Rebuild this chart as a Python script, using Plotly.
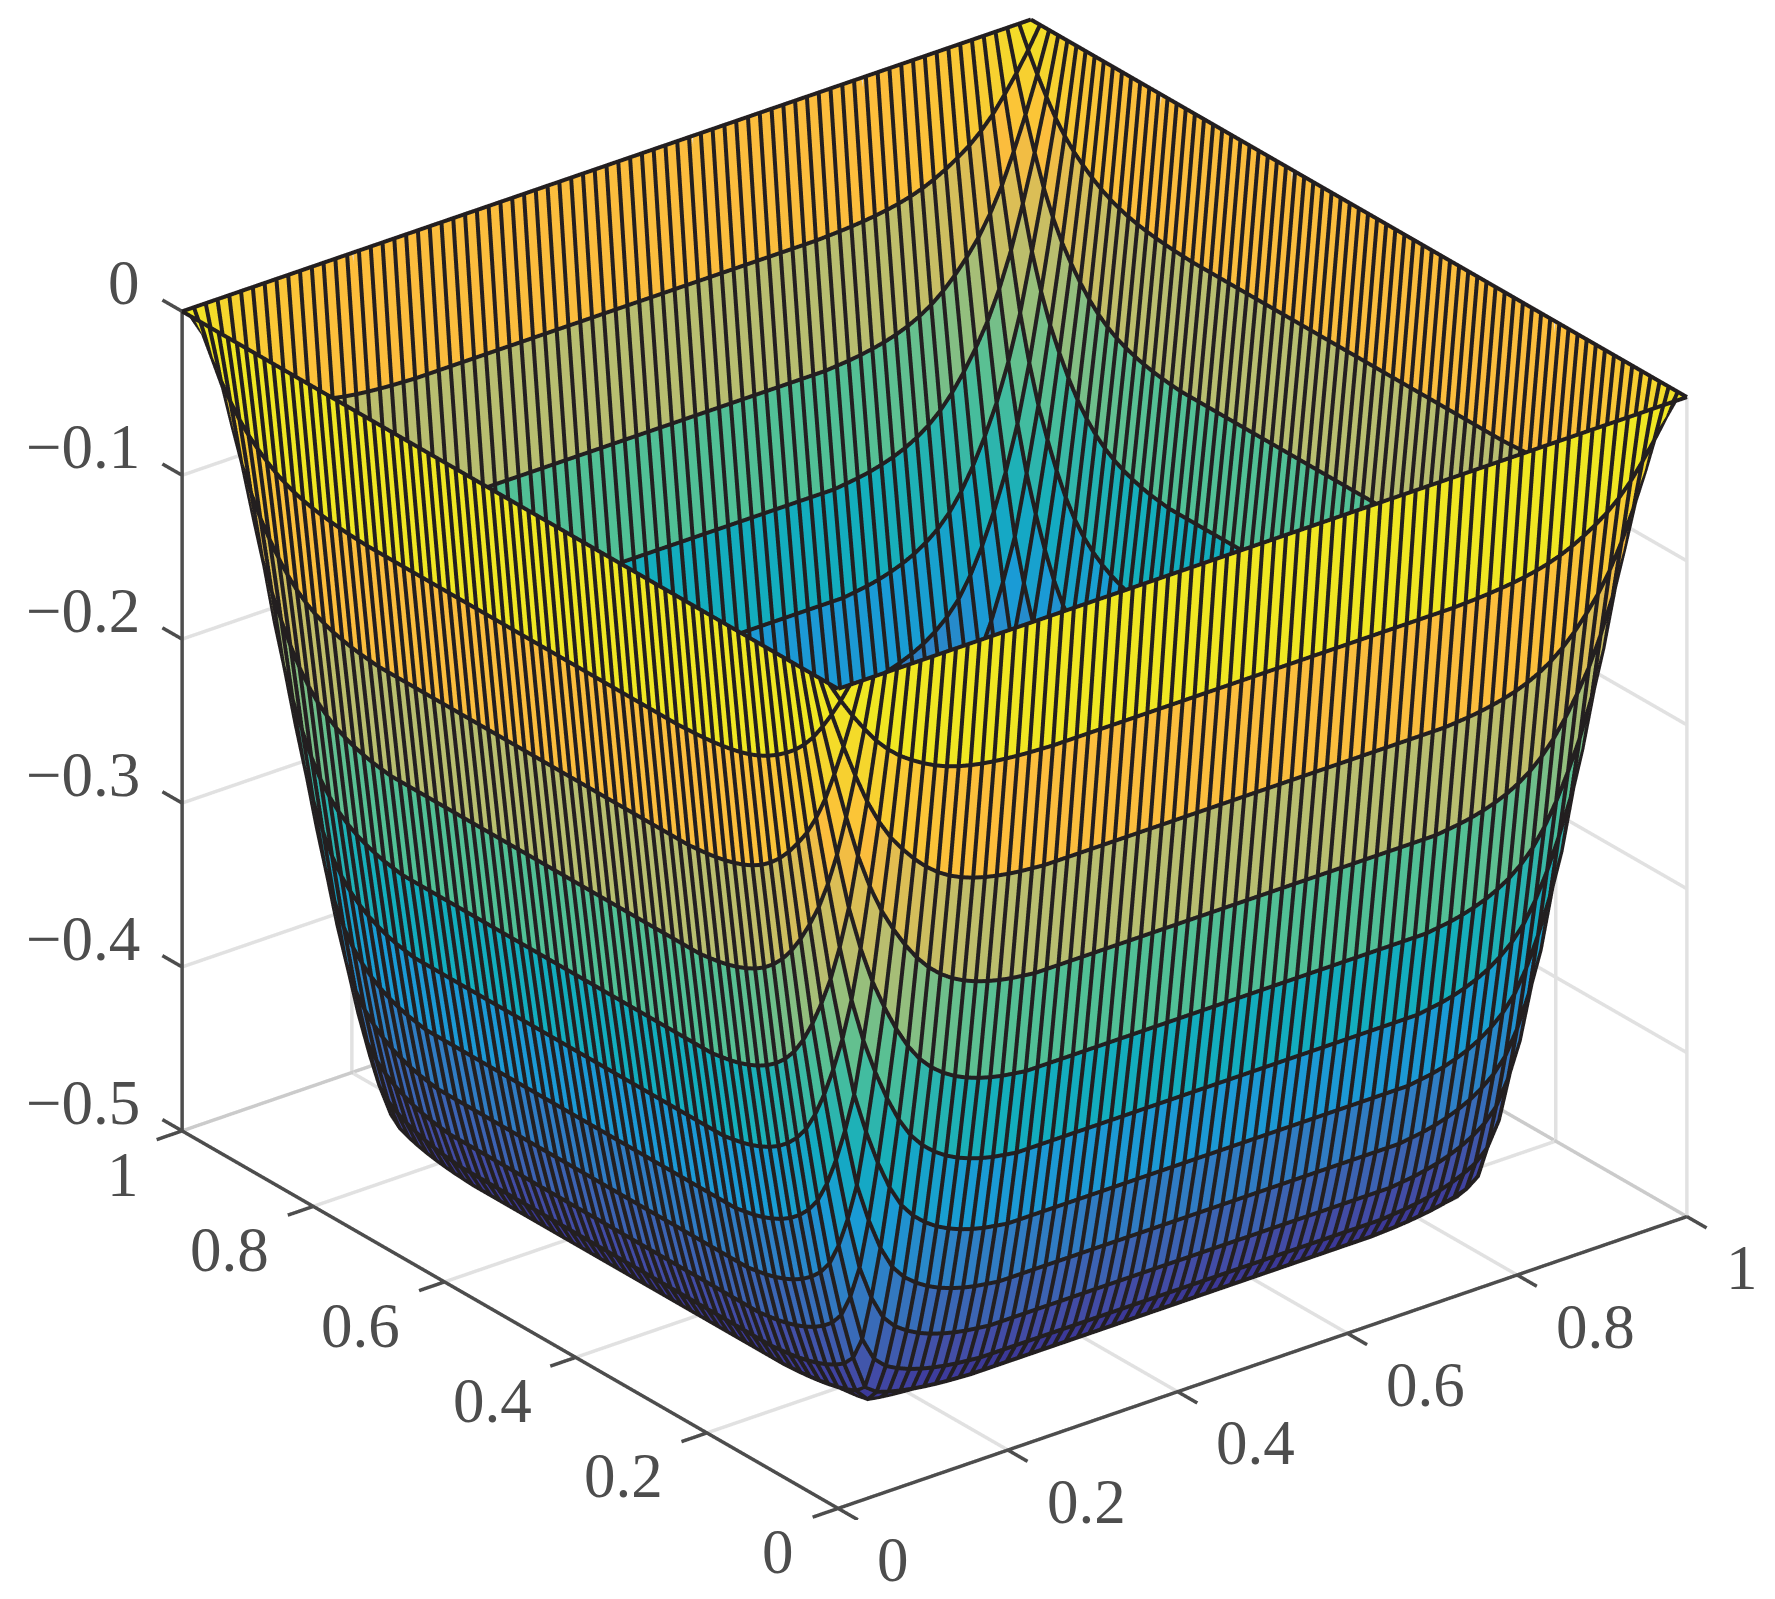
#!/usr/bin/env python3
"""Surface with steep boundary walls, drawn the way a faceted surf looks."""
import numpy as np
import plotly.graph_objects as go

# depth of the wall along one edge, read line by line off the front and back walls
wall_depth = [0.0, -0.0847, -0.161, -0.230, -0.293, -0.3459, -0.3924, -0.431,
              -0.461, -0.4837, -0.497, -0.5]
# how far a mesh line stays above that depth near a corner, by cell from the edge
corner_gap = [0.10, 0.10, 0.10, 0.10, 0.10, 0.105, 0.115, 0.125, 0.125, 0.12, 0.107,
              0.084, 0.062, 0.045, 0.032, 0.022, 0.014, 0.008, 0.004, 0.0]
# that gap fades out for the lines deeper down the wall
corner_fade = [1.0, 1.0, 1.0, 1.0, 0.9, 0.8, 0.65, 0.5, 0.4, 0.3, 0.2, 0.12, 0.06, 0.02, 0.0]
n_cells = 72
plateau = -0.5

x_ticks = [0, 0.2, 0.4, 0.6, 0.8, 1]
y_ticks = [0, 0.2, 0.4, 0.6, 0.8, 1]
z_ticks = [-0.5, -0.4, -0.3, -0.2, -0.1, 0]
x_labels = ['0', '0.2', '0.4', '0.6', '0.8', '1']
y_labels = ['0', '0.2', '0.4', '0.6', '0.8', '1']
z_labels = ['\u22120.5', '\u22120.4', '\u22120.3', '\u22120.2', '\u22120.1', '0']

band_colors = [
    [0.0, '#352A87'], [0.042, '#3F3FA0'], [0.086, '#4350A8'], [0.146, '#3B66B5'],
    [0.222, '#2F7FC5'], [0.314, '#1A9BD6'], [0.416, '#13AEBD'], [0.542, '#52C096'],
    [0.68, '#B8BE70'], [0.834, '#FDBD3C'], [1.0, '#F0E722'],
]

LINE_DARK = '#231F20'
AXIS_GREY = '#4D4D4D'
GRID_GREY = '#E1E1E1'
GRID_EDGE = '#CBCBCB'
TICK_LEN = 0.03
Z_ASPECT = 0.853   # scene length of the z range compared with x and y
PX = 1 / 1073      # one screen pixel in scene units
MARGIN = 0.04
ZOOM = 1.419       # plotly sizes an orthographic scene from the aspect ratio
EYE = np.array([-0.548, -0.709, 0.445])
EYE = EYE / np.linalg.norm(EYE)
E = 2.0

# screen directions, in scene units
right = np.cross([0, 0, 1], EYE)
right = right / np.linalg.norm(right)
up = np.cross(EYE, right)
z_unit = Z_ASPECT / 0.5


def ribbons(lines, width_px, lift=0.006, **style):
    """Turn polylines into flat strips, since gl lines stay 1px wide here."""
    vx, vy, vz, ti, tj, tk = [], [], [], [], [], []
    base = 0
    for px, py, pz in lines:
        w = np.column_stack([px, py, np.asarray(pz, dtype=float) * z_unit])
        t = np.gradient(w, axis=0)
        sx, sy = t @ right, t @ up
        norm = np.hypot(sx, sy)
        norm[norm == 0] = 1
        side = np.outer(-sy / norm, right) + np.outer(sx / norm, up)
        half = 0.5 * width_px * PX
        pts = np.concatenate([w + half * side, w - half * side]) + lift * EYE
        n = len(w)
        vx.append(pts[:, 0])
        vy.append(pts[:, 1])
        vz.append(pts[:, 2] / z_unit)
        a = base + np.arange(n - 1)
        b = a + n
        ti += [a, a + 1]
        tj += [b, b]
        tk += [a + 1, b + 1]
        base += 2 * n
    return go.Mesh3d(
        x=np.concatenate(vx), y=np.concatenate(vy), z=np.concatenate(vz),
        i=np.concatenate(ti), j=np.concatenate(tj), k=np.concatenate(tk),
        lighting=dict(ambient=1, diffuse=0, specular=0, fresnel=0, roughness=1),
        hoverinfo='skip', showscale=False, **style,
    )


grid = np.linspace(0, 1, n_cells + 1)
profile = np.full(n_cells + 1, plateau)
profile[:len(wall_depth)] = wall_depth
profile[-len(wall_depth):] = wall_depth[::-1]

# corners are shallower than the two walls alone would make them
from_edge = np.minimum(np.arange(n_cells + 1), n_cells - np.arange(n_cells + 1))
gap = np.zeros(n_cells + 1)
gap[:len(corner_gap)] = corner_gap
fade = np.zeros(n_cells + 1)
fade[:len(corner_fade)] = corner_fade
shallow = np.outer(gap[from_edge], gap[from_edge]) / 0.10
shallow = shallow * fade[np.minimum.outer(from_edge, from_edge)]
z = -np.outer(profile, profile) / 0.5 * (1 - shallow)

# every cell keeps the colour of its low corner, so the grid is doubled
eps = 1e-4
idx = np.repeat(np.arange(n_cells + 1), 2)[1:-1]
pos = grid[idx].copy()
pos[1::2] -= eps
low = np.repeat(np.arange(n_cells), 2)
z_fine = z[np.ix_(idx, idx)]
c_fine = z[np.ix_(low, low)]

fig = go.Figure()
fig.add_trace(go.Surface(
    x=pos, y=pos, z=z_fine, surfacecolor=c_fine,
    colorscale=band_colors, cmin=-0.5, cmax=0, showscale=False,
    lighting=dict(ambient=1, diffuse=0, specular=0, fresnel=0, roughness=1),
    hoverinfo='skip',
))

# mesh lines
mesh_lines = []
for i in range(n_cells + 1):
    mesh_lines.append((np.full(n_cells + 1, grid[i]), grid, z[:, i]))
    mesh_lines.append((grid, np.full(n_cells + 1, grid[i]), z[i, :]))
fig.add_trace(ribbons(mesh_lines, 4.0, color=LINE_DARK))

# grid on the back walls and the floor
z_min, z_max = z_ticks[0], z_ticks[-1]
grid_lines = []
for t in x_ticks:
    grid_lines.append(([t, t], [0, 1], [z_min, z_min]))
    grid_lines.append(([t, t], [1, 1], [z_min, z_max]))
for t in y_ticks:
    grid_lines.append(([0, 1], [t, t], [z_min, z_min]))
    grid_lines.append(([1, 1], [t, t], [z_min, z_max]))
for t in z_ticks:
    grid_lines.append(([0, 1], [1, 1], [t, t]))
    grid_lines.append(([1, 1], [0, 1], [t, t]))
fig.add_trace(ribbons(grid_lines, 3.5, lift=0.0, color=GRID_GREY))
fig.add_trace(ribbons([([1, 1], [0, 1], [z_min, z_min]), ([0, 1], [1, 1], [z_min, z_min])],
                      3.5, lift=0.002, color=GRID_EDGE))

# axis lines and ticks
axis_lines = [([0, 1], [0, 0], [z_min, z_min]),
              ([0, 0], [0, 1], [z_min, z_min]),
              ([0, 0], [1, 1], [z_min, z_max])]
for t in x_ticks:
    axis_lines.append(([t, t], [0, -TICK_LEN], [z_min, z_min]))
for t in y_ticks:
    axis_lines.append(([0, -TICK_LEN], [t, t], [z_min, z_min]))
for t in z_ticks:
    axis_lines.append(([0, 0], [1, 1 + TICK_LEN], [t, t]))
fig.add_trace(ribbons(axis_lines, 3.5, lift=0.003, color=AXIS_GREY))

# tick labels
label_font = dict(family='Liberation Serif', size=63, color=AXIS_GREY)
notes = []
for t, s in zip(x_ticks, x_labels):
    notes.append(dict(x=t, y=0, z=z_min, text=s, showarrow=False, font=label_font,
                      xshift=55 if len(s) == 1 else 78, yshift=-52))
for t, s in zip(y_ticks, y_labels):
    notes.append(dict(x=0, y=t, z=z_min, text=s, showarrow=False, font=label_font,
                      xshift=-60 if len(s) == 1 else -84, yshift=-44))
for t, s in zip(z_ticks, z_labels):
    notes.append(dict(x=0, y=1, z=t, text=s, showarrow=False, font=label_font,
                      xanchor='right', xshift=-41, yshift=28))

hidden = dict(visible=False, showspikes=False)
fig.update_layout(
    width=1775, height=1599, margin=dict(l=0, r=0, t=0, b=0),
    paper_bgcolor='white', showlegend=False,
    scene=dict(
        domain=dict(x=[0.0442, 1], y=[0.0547, 1]),
        aspectmode='manual',
        aspectratio=dict(x=(1 + 2 * MARGIN) * ZOOM, y=(1 + 2 * MARGIN) * ZOOM,
                         z=Z_ASPECT * 0.52 / 0.5 * ZOOM),
        camera=dict(
            projection=dict(type='orthographic'),
            eye=dict(x=EYE[0] * E, y=EYE[1] * E, z=EYE[2] * E),
            up=dict(x=0, y=0, z=1),
        ),
        xaxis=dict(range=[-MARGIN, 1 + MARGIN], **hidden),
        yaxis=dict(range=[-MARGIN, 1 + MARGIN], **hidden),
        zaxis=dict(range=[-0.51, 0.01], **hidden),
        annotations=notes,
    ),
)
fig.write_html("out.html")
